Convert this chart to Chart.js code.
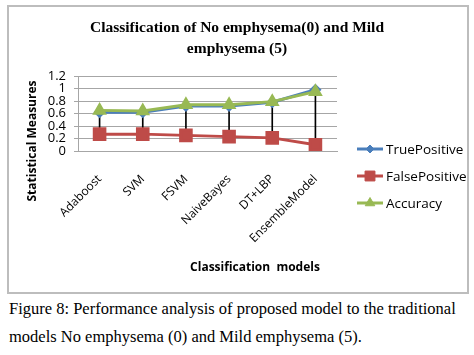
<!DOCTYPE html>
<html>
<head>
<meta charset="utf-8">
<script src="https://cdn.jsdelivr.net/npm/chart.js@4/dist/chart.umd.min.js"></script>
<style>
  html, body { margin: 0; padding: 0; background: #fff; width: 474px; height: 355px; overflow: hidden; }
  #frame { position: absolute; left: 7px; top: 5px; width: 458px; height: 285px; border: 2px solid #bdbdbd; }
  #wrap { position: absolute; left: 0; top: 0; width: 474px; height: 295px; }
  #title { position: absolute; left: 0; top: 16px; width: 474px; text-align: center; font-family: "Liberation Serif", serif; font-weight: bold; font-size: 15.5px; line-height: 21px; color: #000; }
  .cap { position: absolute; left: 9px; font-family: "Liberation Serif", serif; font-size: 16.5px; color: #000; white-space: nowrap; }
</style>
</head>
<body>
<div id="frame"></div>
<div id="wrap"><canvas id="c" width="474" height="295"></canvas></div>
<div id="title">Classification of No emphysema(0) and Mild<br>emphysema (5)</div>
<div class="cap" style="top:299px">Figure 8: Performance analysis of proposed model to the traditional</div>
<div class="cap" style="top:327px">models No emphysema (0) and Mild emphysema (5).</div>
<script>
const categories = ['Adaboost', 'SVM', 'FSVM', 'NaiveBayes', 'DT+LBP', 'EnsembleModel'];
const truePositive = [0.62, 0.62, 0.72, 0.72, 0.78, 0.98];
const falsePositive = [0.27, 0.27, 0.25, 0.23, 0.21, 0.10];
const accuracy = [0.65, 0.64, 0.74, 0.74, 0.79, 0.95];
const seriesNames = ['TruePositive', 'FalsePositive', 'Accuracy'];
const yTickLabels = ['0', '0.2', '0.4', '0.6', '0.8', '1', '1.2'];
const xAxisTitle = 'Classification  models';
const yAxisTitle = 'Statistical Measures';

const colors = ['#4a7ebb', '#be4b48', '#98b954'];
const highLow = categories.map((_, i) => {
  const v = [truePositive[i], falsePositive[i], accuracy[i]];
  return [Math.min(...v), Math.max(...v)];
});

const PLOT_LEFT = 78, PLOT_BOTTOM = 151, CANVAS_H = 295;

function drawMarker(ctx, style, x, y, r, color) {
  ctx.save();
  ctx.fillStyle = color; ctx.strokeStyle = color; ctx.lineWidth = 1;
  ctx.beginPath();
  if (style === 'rectRot') {
    ctx.moveTo(x, y - r); ctx.lineTo(x + r, y); ctx.lineTo(x, y + r); ctx.lineTo(x - r, y); ctx.closePath();
  } else if (style === 'rect') {
    const s = Math.SQRT1_2 * r; ctx.rect(x - s, y - s, 2 * s, 2 * s);
  } else {
    ctx.moveTo(x, y - r); ctx.lineTo(x + r * 0.87, y + r * 0.5); ctx.lineTo(x - r * 0.87, y + r * 0.5); ctx.closePath();
  }
  ctx.fill(); ctx.stroke();
  ctx.restore();
}

const extras = {
  id: 'extras',
  afterDraw(chart) {
    const ctx = chart.ctx;
    ctx.save();
    ctx.fillStyle = '#000';
    ctx.font = 'bold 12px "Open Sans", sans-serif';
    ctx.textAlign = 'center'; ctx.textBaseline = 'middle';
    ctx.fillText(xAxisTitle, 255, 268);
    ctx.save();
    ctx.translate(33, 141); ctx.rotate(-Math.PI / 2);
    ctx.fillText(yAxisTitle, 0, 0);
    ctx.restore();
    // legend
    const ys = [149, 176, 203];
    const styles = ['rectRot', 'rect', 'triangle'];
    const radii = [4, 7, 5.5];
    ctx.font = '13.5px "Open Sans", sans-serif';
    ctx.textAlign = 'left';
    seriesNames.forEach((name, i) => {
      ctx.strokeStyle = colors[i]; ctx.lineWidth = 3;
      ctx.beginPath(); ctx.moveTo(357, ys[i]); ctx.lineTo(383, ys[i]); ctx.stroke();
      drawMarker(ctx, styles[i], 370, ys[i], radii[i], colors[i]);
      ctx.fillStyle = '#000';
      ctx.fillText(name, 386, ys[i] + 1);
    });
    ctx.restore();
  }
};

new Chart(document.getElementById('c'), {
  type: 'line',
  data: {
    labels: categories,
    datasets: [
      { type: 'bar', label: 'hl', data: highLow, backgroundColor: '#000', barThickness: 1, order: 10 },
      { label: seriesNames[0], data: truePositive, borderColor: colors[0], backgroundColor: colors[0], borderWidth: 3, pointStyle: 'rectRot', pointRadius: 4, tension: 0, order: 3 },
      { label: seriesNames[1], data: falsePositive, borderColor: colors[1], backgroundColor: colors[1], borderWidth: 3, pointStyle: 'rect', pointRadius: 7.5, tension: 0, order: 2 },
      { label: seriesNames[2], data: accuracy, borderColor: colors[2], backgroundColor: colors[2], borderWidth: 3, pointStyle: 'triangle', pointRadius: 5.5, tension: 0, order: 1 }
    ]
  },
  options: {
    responsive: false,
    animation: false,
    devicePixelRatio: 1,
    layout: { padding: { left: 0, top: 76, right: 137, bottom: 0 } },
    plugins: { legend: { display: false }, title: { display: false }, tooltip: { enabled: false } },
    scales: {
      x: {
        offset: true,
        grid: { display: false },
        border: { display: true, color: '#a6a6a6', width: 1 },
        ticks: { color: '#000', font: { family: '"Open Sans", sans-serif', size: 12 }, minRotation: 45, maxRotation: 45, padding: 13, autoSkip: false },
        afterFit(s) { s.height = CANVAS_H - PLOT_BOTTOM; }
      },
      y: {
        min: 0, max: 1.2,
        grid: { color: '#a6a6a6', tickLength: 4, drawTicks: true },
        border: { display: true, color: '#a6a6a6', width: 1 },
        ticks: { stepSize: 0.2, autoSkip: false, color: '#000', padding: 8, font: { family: '"Open Sans", sans-serif', size: 13 },
          callback: (v) => yTickLabels[Math.round(v / 0.2)] },
        afterFit(s) { s.width = PLOT_LEFT; }
      }
    }
  },
  plugins: [extras]
});
</script>
</body>
</html>
